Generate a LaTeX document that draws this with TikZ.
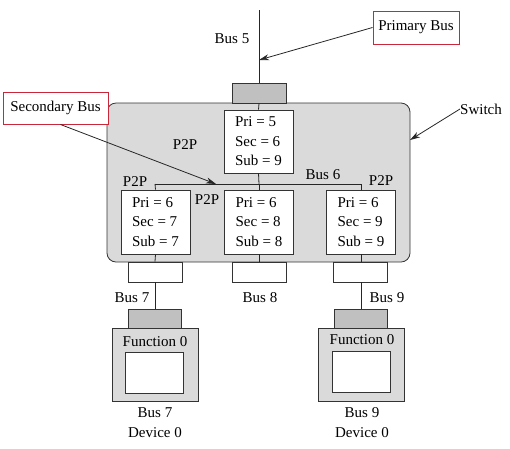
\documentclass[tikz,border=0pt]{standalone}
\usepackage{fontspec}
\setmainfont{Liberation Serif}
\usepackage{tikz}
\usetikzlibrary{arrows.meta}
\usetikzlibrary{positioning}
\definecolor{switchgray}{RGB}{218,218,218}
\definecolor{portgray}{RGB}{192,192,192}
\definecolor{calloutred}{RGB}{200,40,58}
\tikzset{ 
switch box/.style = { rectangle, draw = black!80, fill = switchgray, rounded corners = 9pt, line width = 0.8pt },
port up/.style = { rectangle, draw = black!80, fill = portgray, minimum width = 54pt, minimum height = 20pt, line width = 0.8pt },
port down/.style = { rectangle, draw = black!80, fill = white, minimum width = 54pt, minimum height = 20pt, line width = 0.8pt },
reg box/.style = { rectangle, draw = black!80, fill = white, minimum width = 69pt, minimum height = 64pt, align = left, inner sep = 0pt, line width = 0.8pt },
device/.style = { rectangle, draw = black!80, fill = switchgray, minimum width = 86pt, minimum height = 73pt, line width = 0.8pt },
screen/.style = { rectangle, draw = black!80, fill = white, minimum width = 58pt, minimum height = 41pt, line width = 0.8pt },
callout/.style = { rectangle, draw = calloutred, fill = white, line width = 1pt, inner sep = 0pt },
tag/.style = { inner sep = 0pt, align = center },
pointer/.style = { -{Stealth[length = 10pt, width = 6pt, inset = 3pt]}, draw = black!85, line width = 0.8pt },
bus/.style = { draw = black!85, line width = 0.8pt }
}

\begin{document}
\begin{tikzpicture}[x = 1pt, y = -1pt, font = \fontsize{15}{19.5}\selectfont]
      \useasboundingbox (0, 0) rectangle (510, 448);
      % switch and its bridges
      \node[switch box, minimum width = 303pt, minimum height = 159pt] (switch) at (258.5, 182.5) {};
      \node[port up] (up port) at (259, 93) {};
      \node[reg box, minimum height = 63pt] (p2p top) at (258.5, 141.5) {Pri = 5\\Sec = 6\\Sub = 9};
      \node[reg box] (p2p left) at (155.5, 222) {Pri = 6\\Sec = 7\\Sub = 7};
      \node[reg box] (p2p mid) at (259, 222) {Pri = 6\\Sec = 8\\Sub = 8};
      \node[reg box] (p2p right) at (361, 222) {Pri = 6\\Sec = 9\\Sub = 9};
      \node[port down] (port left) at (155, 272) {};
      \node[port down] (port mid) at (259, 272) {};
      \node[port down] (port right) at (360, 272) {};
      % buses
      \coordinate (bus5 top) at (259, 10);
      \coordinate (bus5 hit) at (259, 60);
      \coordinate (bus6 mid) at (259, 184);
      \coordinate (bus6 left) at (155, 184);
      \coordinate (bus6 right) at (361, 184);
      \coordinate (bus6 hit) at (216, 184);
      \coordinate (switch hit) at (410, 140);
      \path[bus] (bus5 top) -- (up port.north);
      \path[bus] (up port.south) -- (p2p top.north);
      \path[bus] (p2p top.south) -- (bus6 mid);
      \path[bus] (bus6 left) -- (bus6 right);
      \path[bus] (bus6 left) -- (p2p left.north);
      \path[bus] (bus6 mid) -- (p2p mid.north);
      \path[bus] (bus6 right) -- (p2p right.north);
      \path[bus] (p2p left.south) -- (port left.north);
      \path[bus] (p2p mid.south) -- (port mid.north);
      \path[bus] (p2p right.south) -- (port right.north -| p2p right.south);
      % devices
      \node[port up, minimum width = 53pt, minimum height = 19pt] (dev7 port) at (155, 318.5) {};
      \node[port up, minimum width = 53pt, minimum height = 19pt] (dev9 port) at (361, 318.5) {};
      \node[device] (dev7) at (155, 364.5) {};
      \node[device] (dev9) at (361.5, 364.5) {};
      \node[screen] (dev7 screen) at (154, 372.5) {};
      \node[screen] (dev9 screen) at (361.5, 371.5) {};
      \path[bus] (port left.south) -- (dev7 port.north);
      \path[bus] (port right.south -| dev9 port.north) -- (dev9 port.north);
      % labels
      \node[tag] (bus5 lbl) at (232, 39) {Bus 5};
      \node[tag] (bus6 lbl) at (323, 175) {Bus 6};
      \node[tag] (bus7 lbl) at (132, 298) {Bus 7};
      \node[tag] (bus8 lbl) at (260, 298) {Bus 8};
      \node[tag] (bus9 lbl) at (387, 298) {Bus 9};
      \node[tag] (p2p lbl a) at (185, 145) {P2P};
      \node[tag] (p2p lbl b) at (135, 182) {P2P};
      \node[tag] (p2p lbl c) at (207, 200) {P2P};
      \node[tag] (p2p lbl d) at (381, 181) {P2P};
      \node[tag] (fn7 lbl) at (155, 342) {Function 0};
      \node[tag] (fn9 lbl) at (362, 340) {Function 0};
      \node[tag] (dev7 lbl) at (155, 422.5) {Bus 7\\Device 0};
      \node[tag] (dev9 lbl) at (362, 422.5) {Bus 9\\Device 0};
      \node[tag] (switch lbl) at (481, 109) {Switch};
      % callouts
      \node[callout, minimum width = 86pt, minimum height = 33pt] (primary) at (416, 27.5) {Primary Bus};
      \node[callout, minimum width = 105pt, minimum height = 32pt] (secondary) at (55.5, 108) {Secondary Bus};
      \path[pointer] (primary.west) -- (bus5 hit);
      \path[pointer] ([xshift = 5pt]secondary.south) -- (bus6 hit);
      \path[pointer] (switch lbl.west) -- (switch hit);
    \end{tikzpicture}
\end{document}
